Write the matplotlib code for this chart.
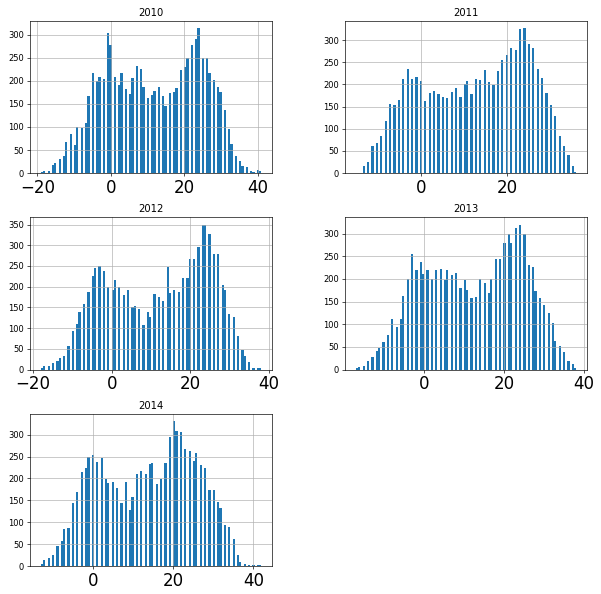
import numpy as np
import matplotlib
matplotlib.use("Agg")
import matplotlib.pyplot as plt

# daily temperature counts per integer degree
years = ["2010", "2011", "2012", "2013", "2014"]

t2010 = np.arange(-19, 42)
c2010 = [3, 5, 5, 17, 21, 30, 37, 67, 85, 60, 100, 97, 108, 166, 217, 200, 207, 204, 304, 277,
         207, 191, 216, 182, 171, 206, 232, 226, 187, 163, 168, 178, 187, 167, 145, 173, 176, 185,
         224, 230, 250, 278, 291, 314, 250, 250, 217, 201, 187, 176, 137,
         95, 63, 36, 27, 15, 14, 5, 3, 7, 5]

t2011 = np.arange(-15, 37)
c2011 = [1, 0, 17, 26, 62, 67, 83, 117, 156, 153, 165, 212, 235, 212, 217, 208, 162, 181, 185, 178,
         172, 170, 183, 192, 172, 200, 208, 178, 212, 210, 232, 205, 199, 230, 255, 266, 282, 277,
         325, 327, 291, 282, 234, 214, 180, 153, 128, 83, 60, 40, 17, 3]

t2012 = np.arange(-18, 39)
c2012 = [3, 8, 8, 17, 20, 29, 34, 56, 94, 111, 138, 158, 187, 226, 245, 250, 238, 200, 192, 216,
         200, 180, 192, 150, 153, 146, 107, 138, 128, 182, 175, 166, 248, 184, 192, 187, 221, 221,
         267, 267, 296, 350, 350, 326, 280, 280, 204, 192, 133, 128, 82, 48, 32, 19, 5, 5, 3]

t2013 = np.arange(-17, 39)
c2013 = [3, 5, 7, 18, 27, 40, 47, 60, 76, 111, 94, 111, 162, 200, 256, 219, 238, 210, 219, 200,
         219, 222, 197, 219, 208, 214, 181, 198, 176, 158, 160, 199, 191, 169, 199, 243, 243, 279,
         299, 280, 312, 320, 299, 231, 227, 174, 158, 143, 125, 103, 63, 53, 38, 18, 12, 3]

t2014 = np.arange(-13, 43)
c2014 = [5, 14, 19, 26, 46, 58, 85, 87, 145, 170, 214, 223, 249, 253, 237, 246, 198, 189, 191, 179,
         145, 191, 128, 158, 211, 218, 211, 232, 236, 188, 199, 236, 294, 331, 308, 306, 267, 262,
         239, 258, 231, 223, 173, 173, 147, 132, 94, 89, 61, 26, 10, 5, 3, 3, 3, 3]

temps = [t2010, t2011, t2012, t2013, t2014]
counts = [c2010, c2011, c2012, c2013, c2014]

fig, axes = plt.subplots(3, 2, figsize=(601 / 60, 594 / 60), dpi=60)
fig.subplots_adjust(left=0.05, right=0.977, top=0.965, bottom=0.047, wspace=0.30, hspace=0.29)
axes = axes.ravel()

for ax, yr, t, c in zip(axes, years, temps, counts):
    ax.hist(t, bins=100, weights=c, color="#1f77b4")
    ax.set_title(yr)
    ax.grid(True)
    ax.tick_params(axis="x", labelsize=20)

axes[-1].set_visible(False)

plt.savefig("out.png", dpi=60)
